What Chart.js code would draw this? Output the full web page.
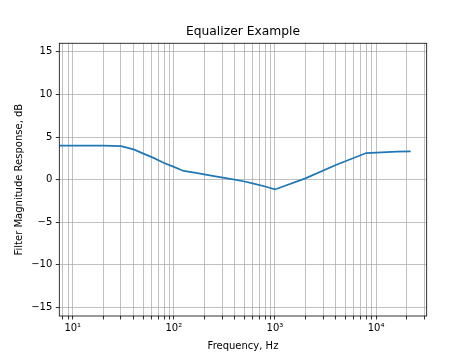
<!DOCTYPE html>
<html>
<head>
<meta charset="utf-8">
<script src="https://cdn.jsdelivr.net/npm/chart.js@4/dist/chart.umd.min.js"></script>
<style>
html,body{margin:0;padding:0;background:#fff;}
#wrap{width:474px;height:355px;position:relative;}
</style>
</head>
<body>
<div id="wrap"><canvas id="c" width="474" height="355"></canvas></div>
<script>
// Data
const freqHz = [7.36, 20, 30, 40, 50, 63, 80, 100, 125, 160, 200, 250, 315, 400, 500, 630, 800, 1000, 2000, 4000, 8000, 16000, 22000];
const gainDb = [4.0, 4.0, 3.92, 3.55, 3.05, 2.55, 1.95, 1.5, 1.02, 0.82, 0.62, 0.41, 0.2, 0.0, -0.22, -0.5, -0.8, -1.15, 0.15, 1.72, 3.12, 3.28, 3.32];
const xTickValues = [10, 100, 1000, 10000];
const xTickLabels = ['10¹', '10²', '10³', '10⁴'];
const yTickValues = [-15, -10, -5, 0, 5, 10, 15];

const points = freqHz.map((f, i) => ({x: f, y: gainDb[i]}));

const frame = {
  id: 'frame',
  afterDraw(chart) {
    const a = chart.chartArea, ctx = chart.ctx;
    ctx.save();
    ctx.strokeStyle = '#000';
    ctx.lineWidth = 0.8;
    ctx.strokeRect(a.left, a.top, a.right - a.left, a.bottom - a.top);
    ctx.restore();
  }
};

const FONT = "'DejaVu Sans', sans-serif";

new Chart(document.getElementById('c'), {
  type: 'line',
  data: {
    datasets: [{
      data: points,
      borderColor: '#1f77b4',
      borderWidth: 1.7,
      pointRadius: 0,
      tension: 0,
      fill: false
    }]
  },
  options: {
    responsive: false,
    animation: false,
    devicePixelRatio: 1,
    layout: {padding: {left: 0, right: 47.3, top: 0, bottom: 0}},
    plugins: {
      legend: {display: false},
      tooltip: {enabled: false},
      title: {
        display: true,
        fullSize: false,
        text: 'Equalizer Example',
        color: '#000',
        font: {family: FONT, size: 12.3, weight: 'normal', lineHeight: 1.2},
        padding: {top: 24.3, bottom: 4.2}
      }
    },
    scales: {
      x: {
        type: 'logarithmic',
        min: 7.36,
        max: 31700,
        afterBuildTicks(scale) {
          const t = [];
          for (let e = 0; e <= 4; e++) {
            for (let m = 1; m <= 9; m++) {
              const v = m * Math.pow(10, e);
              if (v >= scale.min && v <= scale.max) t.push({value: v, major: m === 1});
            }
          }
          scale.ticks = t;
        },
        afterFit(scale) { scale.height = 39; },
        ticks: {
          autoSkip: false,
          maxRotation: 0,
          minRotation: 0,
          padding: 3,
          color: '#000',
          font: {family: FONT, size: 10},
          callback(value) {
            const i = xTickValues.indexOf(value);
            return i >= 0 ? xTickLabels[i] : '';
          }
        },
        grid: {
          color: '#b0b0b0',
          lineWidth: 0.8,
          tickColor: '#000',
          tickWidth: 0.8,
          tickLength: 3.5,
          drawTicks: true
        },
        border: {display: false},
        title: {
          display: true,
          text: 'Frequency, Hz',
          color: '#000',
          font: {family: FONT, size: 10, lineHeight: 1.2},
          padding: {top: 0, bottom: 3}
        }
      },
      y: {
        type: 'linear',
        min: -16,
        max: 16,
        afterBuildTicks(scale) {
          scale.ticks = yTickValues.map(v => ({value: v}));
        },
        afterFit(scale) { scale.width = 59.3; },
        ticks: {
          padding: 3.5,
          color: '#000',
          font: {family: FONT, size: 10},
          callback(value) { return String(value).replace('-', '\u2212'); }
        },
        grid: {
          color: '#b0b0b0',
          lineWidth: 0.8,
          tickColor: '#000',
          tickWidth: 0.8,
          tickLength: 3.5
        },
        border: {display: false},
        title: {
          display: true,
          text: 'Filter Magnitude Response, dB',
          color: '#000',
          font: {family: FONT, size: 10, lineHeight: 1.2},
          padding: {top: 13.5, bottom: 0}
        }
      }
    }
  },
  plugins: [frame]
});
</script>
</body>
</html>
